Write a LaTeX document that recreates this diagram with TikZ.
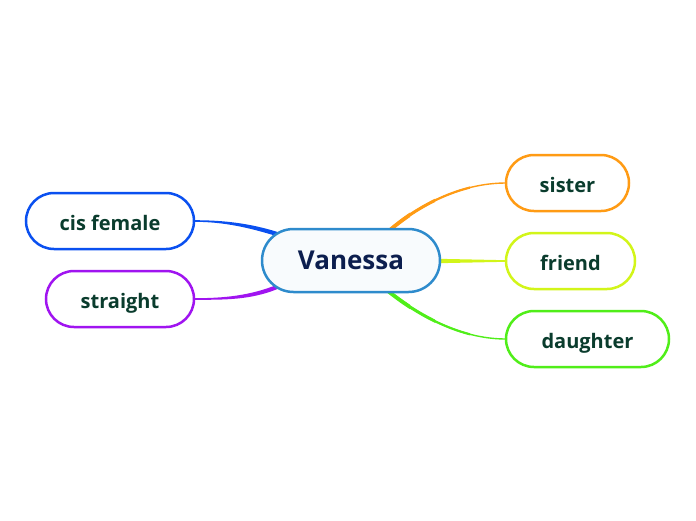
\documentclass[tikz,border=0pt]{standalone}
\usepackage{fontspec}
\setmainfont{Open Sans}
\usetikzlibrary{shapes.misc,calc}
\definecolor{cblue}{RGB}{46,139,204}
\definecolor{cfill}{RGB}{248,251,253}
\definecolor{ctext}{RGB}{12,30,78}
\definecolor{ktext}{RGB}{10,60,45}
\definecolor{korange}{RGB}{255,155,20}
\definecolor{kyellow}{RGB}{210,245,25}
\definecolor{kgreen}{RGB}{80,238,25}
\definecolor{kblue}{RGB}{10,80,240}
\definecolor{kpurple}{RGB}{160,20,240}
\tikzset{
  centerbox/.style={rounded rectangle, draw=cblue, fill=cfill, line width=2.5pt,
    minimum width=178pt, minimum height=63pt, inner sep=0pt,
    text height=18pt, text depth=0pt,
    font=\fontsize{26}{30}\selectfont\bfseries, text=ctext},
  childbox/.style={rounded rectangle, draw=#1, fill=white, line width=2.5pt,
    minimum height=56pt, inner sep=0pt, text height=18pt, text depth=0pt,
    font=\fontsize{20}{24}\selectfont\bfseries, text=ktext},
  link/.style={draw=#1, line cap=round},
}
\begin{document}
\begin{tikzpicture}[x=1pt,y=-1pt]
\useasboundingbox (0,0) rectangle (696,520);
% connector end points
\coordinate (so) at (390,230);
\coordinate (go) at (388,291);
\coordinate (fo) at (438,261);
\coordinate (bo) at (277,234);
\coordinate (po) at (277,287);
\coordinate (se) at (506,183);
\coordinate (fe) at (506,261);
\coordinate (ge) at (506,339);
\coordinate (be) at (194,221);
\coordinate (pe) at (194,299);
% orange (tapered in steps)
\path[link=korange, line width=1.4pt] (so) .. controls (418,206) and (460,183) .. (se);
\begin{scope}\clip (370,150) rectangle (470,240);
\path[link=korange, line width=2.2pt] (so) .. controls (418,206) and (460,183) .. (se);\end{scope}
\begin{scope}\clip (370,150) rectangle (435,240);
\path[link=korange, line width=3pt] (so) .. controls (418,206) and (460,183) .. (se);\end{scope}
\begin{scope}\clip (370,150) rectangle (410,240);
\path[link=korange, line width=3.8pt] (so) .. controls (418,206) and (460,183) .. (se);\end{scope}
% green (tapered in steps)
\path[link=kgreen, line width=1.4pt] (go) .. controls (418,315) and (460,339) .. (ge);
\begin{scope}\clip (370,280) rectangle (470,360);
\path[link=kgreen, line width=2.2pt] (go) .. controls (418,315) and (460,339) .. (ge);\end{scope}
\begin{scope}\clip (370,280) rectangle (435,360);
\path[link=kgreen, line width=3pt] (go) .. controls (418,315) and (460,339) .. (ge);\end{scope}
\begin{scope}\clip (370,280) rectangle (410,360);
\path[link=kgreen, line width=3.8pt] (go) .. controls (418,315) and (460,339) .. (ge);\end{scope}
% yellow
\fill[kyellow] ($(fo)+(0,-2.2)$) -- ($(fe)+(0,-0.8)$) -- ($(fe)+(0,0.8)$) -- ($(fo)+(0,2.2)$) -- cycle;
% blue
\fill[kblue] ($(bo)+(0,-2.2)$) .. controls (250,223.5) and (225,220.2) .. ($(be)+(0,-0.8)$)
  -- ($(be)+(0,0.8)$) .. controls (225,221.8) and (250,228) .. ($(bo)+(0,2.2)$) -- cycle;
% purple
\fill[kpurple] ($(po)+(0,-2.2)$) .. controls (250,295.5) and (225,298.2) .. ($(pe)+(0,-0.8)$)
  -- ($(pe)+(0,0.8)$) .. controls (225,299.8) and (250,300) .. ($(po)+(0,2.2)$) -- cycle;
% nodes
\node[centerbox] (c) at (351,260.5) {Vanessa};
\node[childbox=korange, minimum width=123pt] (s) at (567.5,183) {sister};
\node[childbox=kyellow, minimum width=129pt] (f) at (570.5,261) {friend};
\node[childbox=kgreen, minimum width=163pt] (d) at (587.5,339) {daughter};
\node[childbox=kblue, minimum width=168pt] (b) at (110,221) {cis female};
\node[childbox=kpurple, minimum width=148pt] (p) at (120,299) {straight};
\end{tikzpicture}
\end{document}
